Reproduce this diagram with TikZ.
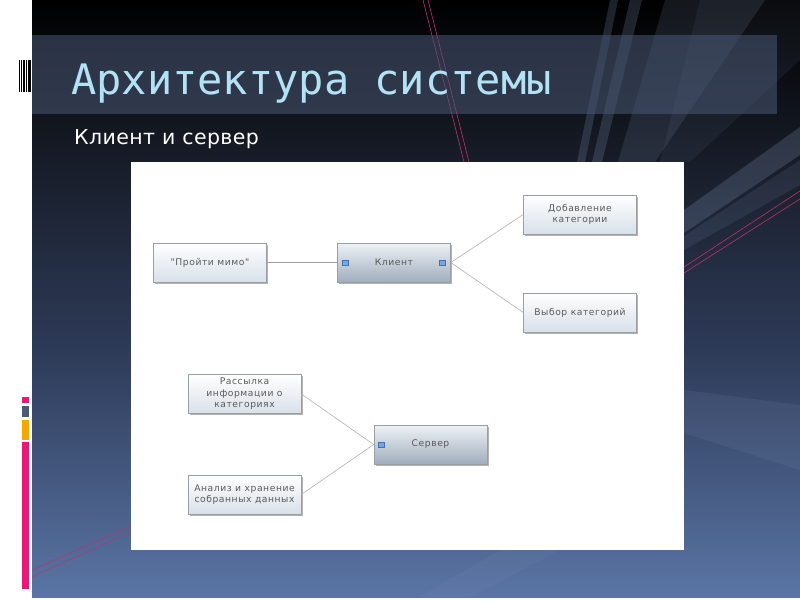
\documentclass[tikz,border=0pt]{standalone}
\usepackage{fontspec}
\setmainfont{DejaVu Sans}
\newfontfamily\titlefont{DejaVu Sans Mono}
\newfontfamily\boxfont[LetterSpace=6]{DejaVu Sans}
\newfontfamily\subfont[LetterSpace=2]{DejaVu Sans}
\usetikzlibrary{shadows}
\definecolor{bgA}{HTML}{161B26}
\definecolor{bgB}{HTML}{2E3B58}
\definecolor{bgC}{HTML}{5A75A5}
\definecolor{band}{HTML}{4A5875}
\definecolor{stripe}{HTML}{8FA3C8}
\definecolor{pinkline}{HTML}{C0306A}
\definecolor{titlecol}{HTML}{B4E2F5}
\definecolor{boxtext}{HTML}{5A5A5A}
\definecolor{leafbot}{HTML}{D8E0E9}
\definecolor{maintop}{HTML}{EEF2F6}
\definecolor{mainbot}{HTML}{A0ADBD}
\definecolor{boxborder}{HTML}{9A9FA6}
\definecolor{iconfill}{HTML}{7AA6DC}
\definecolor{icondraw}{HTML}{3F72B8}
\definecolor{barpink}{HTML}{E8187A}
\definecolor{bargray}{HTML}{4A5A75}
\definecolor{barorange}{HTML}{F5A800}
\tikzset{
  leaf/.style={rectangle, draw=boxborder, line width=0.6pt, top color=white, bottom color=leafbot,
    minimum width=113pt, minimum height=39pt, inner sep=2pt, align=center,
    font=\boxfont\fontsize{9.2}{11.5}\selectfont, text=boxtext,
    drop shadow={shadow xshift=1.5pt, shadow yshift=-1.5pt, opacity=0.3, fill=black}},
  mainbox/.style={leaf, top color=maintop, bottom color=mainbot},
  icon/.style={rectangle, minimum width=6pt, minimum height=5pt, inner sep=0pt,
    fill=iconfill, draw=icondraw, line width=0.4pt},
  thickconn/.style={draw=gray!75, line width=1.5pt},
  thinconn/.style={draw=gray!60, line width=0.6pt},
  pinkl/.style={draw=pinkline, line width=0.6pt},
}
\begin{document}
\begin{tikzpicture}[x=1pt,y=-1pt]
\useasboundingbox (0,0) rectangle (800,600);
\fill[white] (0,0) rectangle (800,600);
% slide background
\shade[top color=black, bottom color=bgA] (32,0) rectangle (800,151);
\shade[top color=bgA, bottom color=bgB] (32,150) rectangle (800,351);
\shade[top color=bgB, bottom color=bgC] (32,350) rectangle (800,597);
% light stripes
\fill[stripe, opacity=0.20] (610,0) -- (618,0) -- (585,162) -- (577,162) -- cycle;
\fill[stripe, opacity=0.20] (630,0) -- (642,0) -- (602,162) -- (592,162) -- cycle;
\fill[stripe, opacity=0.14] (665,0) -- (765,0) -- (655,162) -- (618,162) -- cycle;
\fill[stripe, opacity=0.08] (700,0) -- (800,0) -- (800,60) -- (690,162) -- (660,162) -- cycle;
\fill[stripe, opacity=0.22] (684,210) -- (800,127) -- (800,155) -- (684,233) -- cycle;
\fill[stripe, opacity=0.12] (684,236) -- (800,160) -- (800,185) -- (684,250) -- cycle;
\fill[stripe, opacity=0.10] (684,390) -- (800,405) -- (800,470) -- (684,433) -- cycle;
\fill[stripe, opacity=0.08] (420,597) -- (500,550) -- (560,550) -- (470,597) -- cycle;
% pink lines
\draw[pinkl] (423,0) -- (464,162);
\draw[pinkl] (428,0) -- (469,162);
\draw[pinkl] (684,267) -- (800,191);
\draw[pinkl] (684,273) -- (800,199);
\draw[pinkl, opacity=0.8] (32,577) -- (131,532);
\draw[pinkl, opacity=0.8] (32,570) -- (131,526);
% title band
\fill[band, opacity=0.55] (32,35) rectangle (777,114);
\node[anchor=base west, inner sep=0pt, text=titlecol, font=\titlefont\fontsize{42}{44}\selectfont] (title) at (71,94) {Архитектура системы};
\node[anchor=base west, inner sep=0pt, text=white, font=\subfont\fontsize{20.5}{23}\selectfont] (subtitle) at (74,144) {Клиент и сервер};
% left marks
\fill[black] (19,60) rectangle (19.8,92);
\fill[black] (20.8,60) rectangle (21.8,92);
\fill[black] (22.6,60) rectangle (23.2,92);
\fill[black] (24,60) rectangle (25.3,92);
\fill[black] (26.4,60) rectangle (27,92);
\fill[black] (27.8,60) rectangle (31,92);
\fill[barpink] (22,397) rectangle (29,403);
\fill[bargray] (22,406) rectangle (29,417);
\fill[barorange] (22,420) rectangle (29,440);
\fill[barpink] (22,442) rectangle (29,589);
% diagram panel
\fill[white] (131,162) rectangle (684,550);
\node[leaf] (mimo) at (210,262.5) {"Пройти мимо"};
\node[mainbox] (client) at (394,262.5) {Клиент};
\node[leaf] (add) at (580,214.5) {Добавление\\категории};
\node[leaf] (choose) at (580,312.5) {Выбор категорий};
\node[leaf] (mail) at (244.5,394) {Рассылка\\информации о\\категориях};
\node[mainbox] (server) at (430.5,444.5) {Сервер};
\node[leaf] (anal) at (244.5,494.5) {Анализ и хранение\\собранных данных};
\draw[thickconn] (mimo.east) -- (client.west);
\draw[thinconn] (client.east) -- (add.west);
\draw[thinconn] (client.east) -- (choose.west);
\draw[thinconn] (server.west) -- (mail.east);
\draw[thinconn] (server.west) -- (anal.east);
\node[icon] (ic1) at (345,263) {};
\node[icon] (ic2) at (442,263) {};
\node[icon] (ic3) at (381,445) {};
\end{tikzpicture}
\end{document}
